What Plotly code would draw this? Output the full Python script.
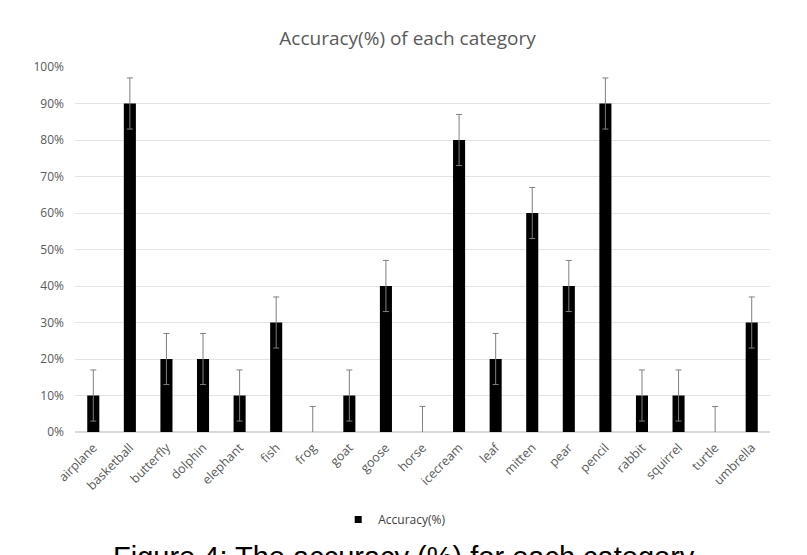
import plotly.graph_objects as go

categories = ['airplane', 'basketball', 'butterfly', 'dolphin', 'elephant', 'fish', 'frog',
              'goat', 'goose', 'horse', 'icecream', 'leaf', 'mitten', 'pear', 'pencil',
              'rabbit', 'squirrel', 'turtle', 'umbrella']
accuracy = [10, 90, 20, 20, 10, 30, 0, 10, 40, 0, 80, 20, 60, 40, 90, 10, 10, 0, 30]
error = [7] * len(categories)
y_ticks = [0, 10, 20, 30, 40, 50, 60, 70, 80, 90, 100]
y_tick_labels = [f'{v}%' for v in y_ticks]

FONT = 'Open Sans, Liberation Sans, sans-serif'
GREY = '#595959'

# the page body adds an 8px margin, so the figure is 8px smaller than the window
WIDTH, HEIGHT = 799, 547


def build_figure():
    fig = go.Figure(go.Bar(
        x=categories,
        y=accuracy,
        name='Accuracy(%)',
        showlegend=False,
        marker=dict(color='black', line=dict(width=0)),
        error_y=dict(type='data', array=error, color='#7f7f7f', thickness=1, width=3),
    ))
    # small square legend key like the original
    fig.add_trace(go.Scatter(x=[None], y=[None], mode='markers', name='Accuracy(%)',
                             marker=dict(symbol='square', size=7, color='black')))

    fig.update_layout(
        width=WIDTH, height=HEIGHT,
        margin=dict(l=67, r=37, t=59, b=123),
        paper_bgcolor='white', plot_bgcolor='white',
        bargap=0.67,
        title=dict(text='Accuracy(%) of each category', x=0.5, xanchor='center',
                   y=1 - 30 / HEIGHT, yanchor='middle',
                   font=dict(family=FONT, size=19, color=GREY)),
        font=dict(family=FONT, size=10, color=GREY),
        showlegend=True,
        legend=dict(orientation='h', x=0.46, xanchor='center', y=-0.2, yanchor='top',
                    itemwidth=30, font=dict(size=12, color='#404040')),
        xaxis=dict(tickangle=-45, showgrid=False, showline=False, ticks='',
                   ticklabelstandoff=5, tickfont=dict(size=12.5, color=GREY)),
        yaxis=dict(range=[0, 100], tickvals=y_ticks, ticktext=y_tick_labels,
                   gridcolor='#e3e3e3', zeroline=True, zerolinecolor='#d9d9d9',
                   showline=False, ticks='', ticklabelstandoff=10,
                   tickfont=dict(size=12, color=GREY)),
    )

    fig.add_annotation(text='Figure 4: The accuracy (%) for each category',
                       xref='paper', yref='paper', x=0.473, xanchor='center',
                       y=-0.293, yanchor='top', showarrow=False,
                       font=dict(family='Liberation Sans, Arial, sans-serif', size=29, color='black'))
    return fig


def main():
    fig = build_figure()
    fig.write_html('out.html')


if __name__ == '__main__':
    main()
